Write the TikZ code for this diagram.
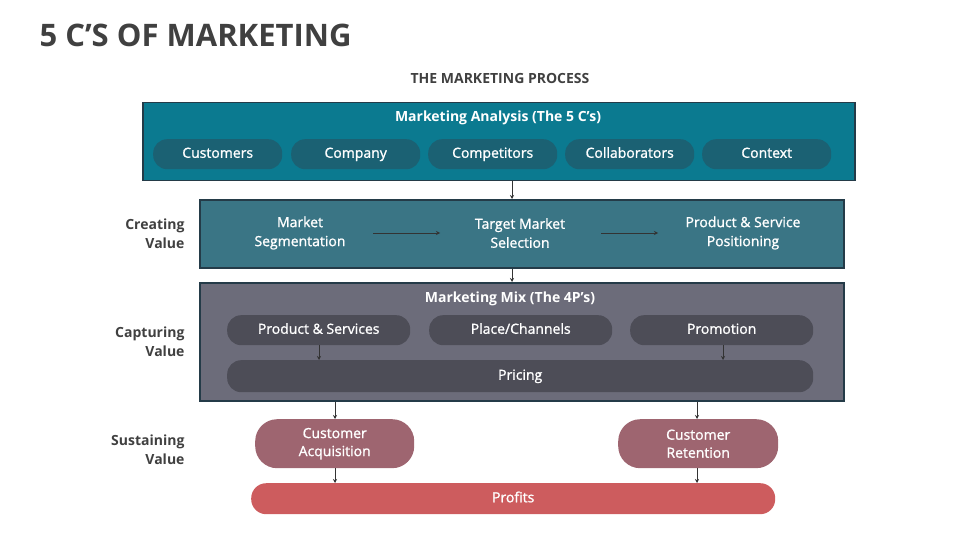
\documentclass[tikz,border=0pt]{standalone}
\usepackage{fontspec}
\setmainfont{Open Sans}
\usetikzlibrary{arrows.meta}
\definecolor{teal1}{HTML}{0B7A90}
\definecolor{teal2}{HTML}{1B6173}
\definecolor{teal3}{HTML}{3A7585}
\definecolor{gray1}{HTML}{6C6C7A}
\definecolor{gray2}{HTML}{4D4D57}
\definecolor{rose}{HTML}{9E6570}
\definecolor{red1}{HTML}{CD5C5E}
\definecolor{bord}{HTML}{243B48}
\definecolor{txt}{HTML}{404040}
\newfontfamily\semib[FakeBold=1.2]{Open Sans}
\tikzset{x=1pt,y=-1pt,
 frame/.style={draw=bord,line width=1.5pt,anchor=north west,inner sep=0pt},
 pill/.style={rounded corners=14pt,anchor=north west,inner sep=0pt,text=white,font=\fontsize{14}{18}\selectfont\semib,align=center},
 wt/.style={text=white,font=\fontsize{14}{19}\selectfont\semib,align=center},
 bt/.style={text=white,font=\fontsize{14}{19}\selectfont\bfseries,align=center},
 side/.style={text=txt,font=\fontsize{14}{19}\selectfont\bfseries,align=right,anchor=east},
 arr/.style={-{Stealth[length=4pt,width=4pt]},draw=black!80,line width=0.6pt}}
\begin{document}
\begin{tikzpicture}
\useasboundingbox (0,0) rectangle (960,540);
\node[anchor=west,text=txt,font=\fontsize{31}{36}\selectfont\bfseries] (title) at (36,35) {5 C’S OF MARKETING};
\node[text=txt,font=\fontsize{14}{17}\selectfont\bfseries] (sub) at (500,78) {THE MARKETING PROCESS};
% box 1
\node[frame,fill=teal1,minimum width=712pt,minimum height=78pt] (b1) at (142,102) {};
\node[bt] (b1t) at (498,118) {\strut Marketing Analysis (The 5 C's)};
\foreach \x/\t [count=\i] in {153/Customers,291/Company,428/Competitors,565/Collaborators,702/Context}
  \node[pill,fill=teal2,minimum width=129pt,minimum height=30pt] (c\i) at (\x,139) {\strut\t};
% box 2
\node[frame,fill=teal3,minimum width=644pt,minimum height=68pt] (b2) at (199,199) {};
\node[wt] (m1) at (300,233) {Market\\Segmentation};
\node[wt] (m2) at (520,233) {Target Market\\Selection};
\node[wt] (m3) at (743,233) {Product \& Service\\Positioning};
\coordinate (a1) at (373,233); \coordinate (a2) at (440,233);
\coordinate (a3) at (601,233); \coordinate (a4) at (658,233);
\draw[arr] (a1) -- (a2); \draw[arr] (a3) -- (a4);
% box 3
\node[frame,fill=gray1,minimum width=644pt,minimum height=118pt] (b3) at (199,282) {};
\node[bt] (b3t) at (510,299) {\strut Marketing Mix (The 4P's)};
\node[pill,fill=gray2,minimum width=183pt,minimum height=30pt] (p1) at (227,315) {\strut Product \& Services};
\node[pill,fill=gray2,minimum width=183pt,minimum height=30pt] (p2) at (429,315) {\strut Place/Channels};
\node[pill,fill=gray2,minimum width=183pt,minimum height=30pt] (p3) at (630,315) {\strut Promotion};
\node[pill,fill=gray2,minimum width=586pt,minimum height=32pt] (pr) at (227,360) {\strut Pricing};
\draw[arr] (p1.south -| 319,0) -- (pr.north -| 319,0);
\draw[arr] (p3.south -| 723,0) -- (pr.north -| 723,0);
\draw[arr] (b1.south -| 512,0) -- (b2.north -| 512,0);
\draw[arr] (b2.south -| 512,0) -- (b3.north -| 512,0);
% sustaining
\node[pill,fill=rose,rounded corners=22pt,minimum width=159pt,minimum height=49pt] (ca) at (255,419) {Customer\\Acquisition};
\node[pill,fill=rose,rounded corners=22pt,minimum width=160pt,minimum height=49pt] (cr) at (618,419) {Customer\\Retention};
\node[pill,fill=red1,rounded corners=15pt,minimum width=524pt,minimum height=31pt] (pf) at (251,483) {\strut Profits};
\draw[arr] (b3.south -| 335,0) -- (ca.north -| 335,0);
\draw[arr] (b3.south -| 697,0) -- (cr.north -| 697,0);
\draw[arr] (ca.south -| 335,0) -- (pf.north -| 335,0);
\draw[arr] (cr.south -| 697,0) -- (pf.north -| 697,0);
% side labels
\node[side] (s1) at (188,234) {Creating\\Value};
\node[side] (s2) at (188,342) {Capturing\\Value};
\node[side] (s3) at (188,450) {Sustaining\\Value};
\end{tikzpicture}
\end{document}
